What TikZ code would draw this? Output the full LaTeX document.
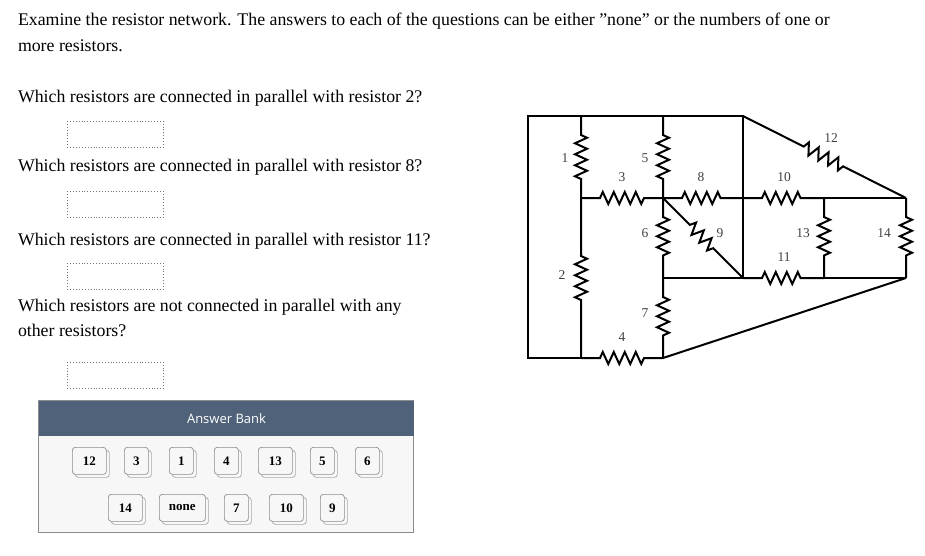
\documentclass[tikz,border=0pt]{standalone}
\usepackage{fontspec}
\setmainfont{Liberation Serif}
\newfontfamily\uisans{Open Sans}
\usetikzlibrary{decorations.pathmorphing,shadows}
\begin{document}
\begin{tikzpicture}[x=1pt,y=-1pt,line width=2pt,
  res/.style={decorate,decoration={zigzag,segment length=11pt,amplitude=6pt,pre length=#1,post length=#1}},
  lbl/.style={font=\fontsize{13.5}{15}\selectfont,text=black!75,inner sep=0pt},
  qtext/.style={anchor=base west,font=\fontsize{17.8}{20}\selectfont,inner sep=0pt,align=left},
  ansbox/.style={draw=black!55,dotted,line width=0.9pt,minimum width=96pt,minimum height=26pt,inner sep=0pt,anchor=north west},
  btn/.style={draw=black!45,line width=0.7pt,rounded corners=3pt,fill=black!3,minimum height=27pt,inner sep=0pt,anchor=north west,font=\fontsize{13}{15}\selectfont\bfseries,copy shadow={shadow xshift=3pt,shadow yshift=-3pt,draw=black!35,fill=black!3}}]
\useasboundingbox (0,0) rectangle (925,555);
% text
\node[qtext] (t1) at (17,25) {Examine the resistor network. The answers to each of the questions can be either \char34 none\char34{} or the numbers of one or};
\node[qtext] (t2) at (17,51) {more resistors.};
\node[qtext] (q1) at (17,102) {Which resistors are connected in parallel with resistor 2?};
\node[qtext] (q2) at (17,171) {Which resistors are connected in parallel with resistor 8?};
\node[qtext] (q3) at (17,245) {Which resistors are connected in parallel with resistor 11?};
\node[qtext] (q4) at (17,311) {Which resistors are not connected in parallel with any};
\node[qtext] (q5) at (17,336) {other resistors?};
\node[ansbox] (b1) at (67,121) {};
\node[ansbox] (b2) at (67,191) {};
\node[ansbox] (b3) at (67,263) {};
\node[ansbox] (b4) at (67,362) {};
% answer bank
\node[draw=black!45,line width=0.7pt,fill=black!3,minimum width=375pt,minimum height=132pt,anchor=north west,inner sep=0pt] (bank) at (38,400) {};
\node[fill={rgb,255:red,80;green,98;blue,122},minimum width=375pt,minimum height=35pt,anchor=north west,inner sep=0pt,text=white,font=\uisans\fontsize{13}{15}\selectfont] (hdr) at (38,400) {Answer Bank};
\foreach \n/\x/\w in {12/72/34,3/124/24,1/169/24,4/214/24,13/258/34,5/310/24,6/355/24}
  \node[btn,minimum width=\w pt] (r1b\n) at (\x,447) {\n};
\foreach \n/\x/\w in {14/108/34,none/159/46,7/224/24,10/269/34,9/320/24}
  \node[btn,minimum width=\w pt] (r2b\n) at (\x,494) {\n};
% circuit nodes
\coordinate (TL) at (528,116); \coordinate (BL) at (528,358);
\coordinate (A1) at (581,116); \coordinate (A2) at (581,198); \coordinate (A3) at (581,358);
\coordinate (B1) at (663,116); \coordinate (B2) at (663,198); \coordinate (B3) at (663,278); \coordinate (B4) at (663,358);
\coordinate (C1) at (743,116); \coordinate (C2) at (743,198); \coordinate (C3) at (743,278);
\coordinate (D2) at (824,198); \coordinate (D3) at (824,278);
\coordinate (E2) at (906,198); \coordinate (E3) at (906,278);
\draw (A3) -- (BL) -- (TL) -- (C1) -- (C3);
\draw[res=19] (A1) -- (A2);
\draw[res=58] (A2) -- (A3);
\draw[res=19] (A2) -- (B2);
\draw[res=19] (B1) -- (B2);
\draw[res=19] (B2) -- (C2);
\draw[res=19] (B2) -- (B3);
\draw[res=19] (B3) -- (B4);
\draw[res=19] (A3) -- (B4);
\draw[res=38] (B2) -- (C3);
\draw (B3) -- (C3);
\draw[res=19] (C2) -- (D2);
\draw (D2) -- (E2);
\draw[res=19] (C3) -- (D3);
\draw (D3) -- (E3);
\draw[res=19] (D2) -- (D3);
\draw[res=19] (E2) -- (E3);
\draw[res=68] (C1) -- (E2);
\draw (B4) -- (E3);
% labels
\node[lbl] (l1) at (565,158) {1};
\node[lbl] (l2) at (562,275) {2};
\node[lbl] (l3) at (622,177) {3};
\node[lbl] (l4) at (622,337) {4};
\node[lbl] (l5) at (645,158) {5};
\node[lbl] (l6) at (645,233) {6};
\node[lbl] (l7) at (645,313) {7};
\node[lbl] (l8) at (701,177) {8};
\node[lbl] (l9) at (720,233) {9};
\node[lbl] (l10) at (784,177) {10};
\node[lbl] (l11) at (784,257) {11};
\node[lbl] (l12) at (831,138) {12};
\node[lbl] (l13) at (803,233) {13};
\node[lbl] (l14) at (884,233) {14};
\end{tikzpicture}
\end{document}
